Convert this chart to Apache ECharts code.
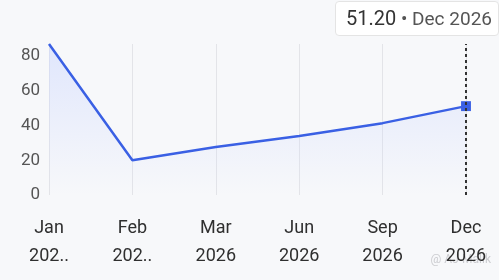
<!DOCTYPE html>
<html><head><meta charset="utf-8">
<script src="https://cdn.jsdelivr.net/npm/echarts@6/dist/echarts.min.js"></script>
<style>html,body{margin:0;padding:0;background:#f7f8fa;}#c{width:499px;height:280px;}</style>
</head><body><div id="c"></div>
<script>
const categories = ['Jan\n202..', 'Feb\n202..', 'Mar\n2026', 'Jun\n2026', 'Sep\n2026', 'Dec\n2026'];
const tipLabels = ['Jan 2026', 'Feb 2026', 'Mar 2026', 'Jun 2026', 'Sep 2026', 'Dec 2026'];
const values = [87, 20, 27.6, 34, 41.4, 51.2];
const yTicks = [0, 20, 40, 60, 80];

const chart = echarts.init(document.getElementById('c'), null, {renderer: 'canvas'});
chart.setOption({
  animation: false,
  backgroundColor: '#f7f8fa',
  textStyle: {fontFamily: 'Roboto'},
  grid: {left: 49, right: 33, top: 44, bottom: 85},
  tooltip: {
    trigger: 'axis',
    alwaysShowContent: true,
    position: function () { return [335, 1]; },
    backgroundColor: '#ffffff',
    borderColor: '#e4e4e4',
    borderWidth: 1,
    borderRadius: 4,
    padding: [4, 6, 4, 10],
    extraCssText: 'box-shadow:none;line-height:24px;white-space:nowrap;',
    textStyle: {fontFamily: 'Roboto', fontSize: 19},
    axisPointer: {type: 'line', lineStyle: {color: '#333', type: [3, 3], width: 2}},
    formatter: function (p) {
      const i = p[0].dataIndex;
      return '<span style="color:#333;font-size:20px">' + values[i].toFixed(2) + '</span>' +
        '<span style="color:#555;font-size:19px"> \u2022 ' + tipLabels[i] + '</span>';
    }
  },
  xAxis: {
    type: 'category',
    data: categories,
    boundaryGap: false,
    axisLine: {show: false},
    axisTick: {show: false},
    axisLabel: {color: '#2f2f2f', fontSize: 18, lineHeight: 28, margin: 19, interval: 0},
    splitLine: {show: true, interval: 0, lineStyle: {color: '#e3e4e8', width: 1}}
  },
  yAxis: {
    type: 'value',
    min: 0,
    max: 'dataMax',
    interval: 20,
    axisLine: {show: false},
    axisTick: {show: false},
    splitLine: {show: false},
    axisLabel: {color: '#555', fontSize: 17, margin: 9, showMaxLabel: false,
      formatter: function (v) { return yTicks.indexOf(v) >= 0 ? String(v) : ''; }}
  },
  series: [{
    type: 'line',
    data: values,
    symbol: 'rect',
    symbolSize: function (v, p) { return p.dataIndex === values.length - 1 ? 9 : 0; },
    showAllSymbol: true,
    itemStyle: {color: '#3558d0'},
    lineStyle: {color: '#3558d0', width: 2.5},
    areaStyle: {color: new echarts.graphic.LinearGradient(0, 0, 0, 1, [
      {offset: 0, color: 'rgba(185,195,240,0.75)'},
      {offset: 1, color: 'rgba(185,195,240,0.0)'}
    ])}
  }],
  graphic: [{
    type: 'text', right: 8, bottom: 14,
    style: {text: '@ AJ-Malik', fill: 'rgba(170,170,175,0.55)', font: '12px Roboto'}
  }]
});
chart.dispatchAction({type: 'showTip', seriesIndex: 0, dataIndex: values.length - 1});
</script></body></html>
